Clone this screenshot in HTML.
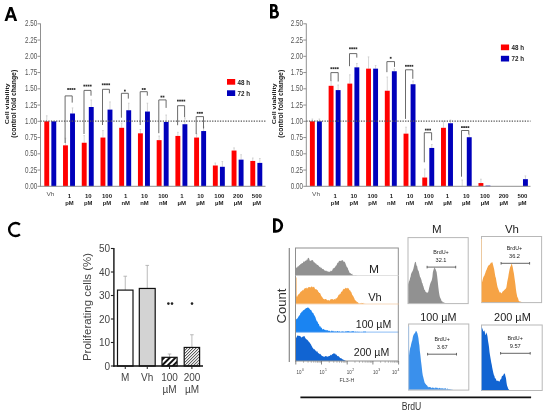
<!DOCTYPE html>
<html><head><meta charset="utf-8"><style>
html,body{margin:0;padding:0;background:#fff;width:550px;height:414px;overflow:hidden}
svg{display:block;font-family:"Liberation Sans", sans-serif;will-change:transform}
</style></head><body>
<svg width="550" height="414" viewBox="0 0 550 414">
<rect width="550" height="414" fill="#fff"/>
<line x1="46.75" y1="121.30" x2="46.75" y2="115.80" stroke="#c4c4c4" stroke-width="0.7" />
<line x1="45.95" y1="115.80" x2="47.55" y2="115.80" stroke="#c4c4c4" stroke-width="0.7" />
<line x1="65.48" y1="145.35" x2="65.48" y2="138.20" stroke="#c4c4c4" stroke-width="0.7" />
<line x1="64.68" y1="138.20" x2="66.28" y2="138.20" stroke="#c4c4c4" stroke-width="0.7" />
<line x1="72.53" y1="113.50" x2="72.53" y2="107.90" stroke="#c4c4c4" stroke-width="0.7" />
<line x1="71.73" y1="107.90" x2="73.33" y2="107.90" stroke="#c4c4c4" stroke-width="0.7" />
<line x1="84.21" y1="142.75" x2="84.21" y2="135.60" stroke="#c4c4c4" stroke-width="0.7" />
<line x1="83.41" y1="135.60" x2="85.01" y2="135.60" stroke="#c4c4c4" stroke-width="0.7" />
<line x1="91.26" y1="107.00" x2="91.26" y2="100.00" stroke="#c4c4c4" stroke-width="0.7" />
<line x1="90.46" y1="100.00" x2="92.06" y2="100.00" stroke="#c4c4c4" stroke-width="0.7" />
<line x1="102.94" y1="137.55" x2="102.94" y2="130.50" stroke="#c4c4c4" stroke-width="0.7" />
<line x1="102.14" y1="130.50" x2="103.74" y2="130.50" stroke="#c4c4c4" stroke-width="0.7" />
<line x1="109.99" y1="109.60" x2="109.99" y2="101.90" stroke="#c4c4c4" stroke-width="0.7" />
<line x1="109.19" y1="101.90" x2="110.79" y2="101.90" stroke="#c4c4c4" stroke-width="0.7" />
<line x1="121.67" y1="127.80" x2="121.67" y2="123.00" stroke="#c4c4c4" stroke-width="0.7" />
<line x1="120.87" y1="123.00" x2="122.47" y2="123.00" stroke="#c4c4c4" stroke-width="0.7" />
<line x1="128.72" y1="110.25" x2="128.72" y2="103.20" stroke="#c4c4c4" stroke-width="0.7" />
<line x1="127.92" y1="103.20" x2="129.52" y2="103.20" stroke="#c4c4c4" stroke-width="0.7" />
<line x1="140.40" y1="133.33" x2="140.40" y2="129.50" stroke="#c4c4c4" stroke-width="0.7" />
<line x1="139.60" y1="129.50" x2="141.20" y2="129.50" stroke="#c4c4c4" stroke-width="0.7" />
<line x1="147.45" y1="111.55" x2="147.45" y2="103.20" stroke="#c4c4c4" stroke-width="0.7" />
<line x1="146.65" y1="103.20" x2="148.25" y2="103.20" stroke="#c4c4c4" stroke-width="0.7" />
<line x1="159.13" y1="140.15" x2="159.13" y2="136.00" stroke="#c4c4c4" stroke-width="0.7" />
<line x1="158.33" y1="136.00" x2="159.93" y2="136.00" stroke="#c4c4c4" stroke-width="0.7" />
<line x1="166.18" y1="121.95" x2="166.18" y2="115.00" stroke="#c4c4c4" stroke-width="0.7" />
<line x1="165.38" y1="115.00" x2="166.98" y2="115.00" stroke="#c4c4c4" stroke-width="0.7" />
<line x1="177.86" y1="135.93" x2="177.86" y2="132.30" stroke="#c4c4c4" stroke-width="0.7" />
<line x1="177.06" y1="132.30" x2="178.66" y2="132.30" stroke="#c4c4c4" stroke-width="0.7" />
<line x1="184.91" y1="124.23" x2="184.91" y2="118.00" stroke="#c4c4c4" stroke-width="0.7" />
<line x1="184.11" y1="118.00" x2="185.71" y2="118.00" stroke="#c4c4c4" stroke-width="0.7" />
<line x1="196.59" y1="137.55" x2="196.59" y2="134.00" stroke="#c4c4c4" stroke-width="0.7" />
<line x1="195.79" y1="134.00" x2="197.39" y2="134.00" stroke="#c4c4c4" stroke-width="0.7" />
<line x1="203.64" y1="131.05" x2="203.64" y2="127.00" stroke="#c4c4c4" stroke-width="0.7" />
<line x1="202.84" y1="127.00" x2="204.44" y2="127.00" stroke="#c4c4c4" stroke-width="0.7" />
<line x1="215.32" y1="165.50" x2="215.32" y2="163.00" stroke="#c4c4c4" stroke-width="0.7" />
<line x1="214.52" y1="163.00" x2="216.12" y2="163.00" stroke="#c4c4c4" stroke-width="0.7" />
<line x1="222.37" y1="166.80" x2="222.37" y2="161.50" stroke="#c4c4c4" stroke-width="0.7" />
<line x1="221.57" y1="161.50" x2="223.17" y2="161.50" stroke="#c4c4c4" stroke-width="0.7" />
<line x1="234.05" y1="150.55" x2="234.05" y2="147.90" stroke="#c4c4c4" stroke-width="0.7" />
<line x1="233.25" y1="147.90" x2="234.85" y2="147.90" stroke="#c4c4c4" stroke-width="0.7" />
<line x1="241.10" y1="159.65" x2="241.10" y2="154.70" stroke="#c4c4c4" stroke-width="0.7" />
<line x1="240.30" y1="154.70" x2="241.90" y2="154.70" stroke="#c4c4c4" stroke-width="0.7" />
<line x1="252.78" y1="160.95" x2="252.78" y2="158.00" stroke="#c4c4c4" stroke-width="0.7" />
<line x1="251.98" y1="158.00" x2="253.58" y2="158.00" stroke="#c4c4c4" stroke-width="0.7" />
<line x1="259.83" y1="162.90" x2="259.83" y2="158.50" stroke="#c4c4c4" stroke-width="0.7" />
<line x1="259.03" y1="158.50" x2="260.63" y2="158.50" stroke="#c4c4c4" stroke-width="0.7" />
<rect x="44.30" y="121.30" width="4.90" height="65.00" fill="#ff0000" />
<rect x="51.35" y="121.30" width="4.90" height="65.00" fill="#0000bb" />
<rect x="63.03" y="145.35" width="4.90" height="40.95" fill="#ff0000" />
<rect x="70.08" y="113.50" width="4.90" height="72.80" fill="#0000bb" />
<rect x="81.76" y="142.75" width="4.90" height="43.55" fill="#ff0000" />
<rect x="88.81" y="107.00" width="4.90" height="79.30" fill="#0000bb" />
<rect x="100.49" y="137.55" width="4.90" height="48.75" fill="#ff0000" />
<rect x="107.54" y="109.60" width="4.90" height="76.70" fill="#0000bb" />
<rect x="119.22" y="127.80" width="4.90" height="58.50" fill="#ff0000" />
<rect x="126.27" y="110.25" width="4.90" height="76.05" fill="#0000bb" />
<rect x="137.95" y="133.33" width="4.90" height="52.97" fill="#ff0000" />
<rect x="145.00" y="111.55" width="4.90" height="74.75" fill="#0000bb" />
<rect x="156.68" y="140.15" width="4.90" height="46.15" fill="#ff0000" />
<rect x="163.73" y="121.95" width="4.90" height="64.35" fill="#0000bb" />
<rect x="175.41" y="135.93" width="4.90" height="50.38" fill="#ff0000" />
<rect x="182.46" y="124.23" width="4.90" height="62.07" fill="#0000bb" />
<rect x="194.14" y="137.55" width="4.90" height="48.75" fill="#ff0000" />
<rect x="201.19" y="131.05" width="4.90" height="55.25" fill="#0000bb" />
<rect x="212.87" y="165.50" width="4.90" height="20.80" fill="#ff0000" />
<rect x="219.92" y="166.80" width="4.90" height="19.50" fill="#0000bb" />
<rect x="231.60" y="150.55" width="4.90" height="35.75" fill="#ff0000" />
<rect x="238.65" y="159.65" width="4.90" height="26.65" fill="#0000bb" />
<rect x="250.33" y="160.95" width="4.90" height="25.35" fill="#ff0000" />
<rect x="257.38" y="162.90" width="4.90" height="23.40" fill="#0000bb" />
<line x1="40.50" y1="23.50" x2="40.50" y2="186.80" stroke="#909090" stroke-width="1" />
<line x1="40.50" y1="186.30" x2="265.50" y2="186.30" stroke="#909090" stroke-width="1" />
<line x1="37.50" y1="186.30" x2="40.50" y2="186.30" stroke="#909090" stroke-width="1" />
<text x="37.20" y="188.90" font-size="8.2" text-anchor="end" font-weight="normal" fill="#555" textLength="12.2" lengthAdjust="spacingAndGlyphs" >0.00</text>
<line x1="37.50" y1="170.05" x2="40.50" y2="170.05" stroke="#909090" stroke-width="1" />
<text x="37.20" y="172.65" font-size="8.2" text-anchor="end" font-weight="normal" fill="#555" textLength="12.2" lengthAdjust="spacingAndGlyphs" >0.25</text>
<line x1="37.50" y1="153.80" x2="40.50" y2="153.80" stroke="#909090" stroke-width="1" />
<text x="37.20" y="156.40" font-size="8.2" text-anchor="end" font-weight="normal" fill="#555" textLength="12.2" lengthAdjust="spacingAndGlyphs" >0.50</text>
<line x1="37.50" y1="137.55" x2="40.50" y2="137.55" stroke="#909090" stroke-width="1" />
<text x="37.20" y="140.15" font-size="8.2" text-anchor="end" font-weight="normal" fill="#555" textLength="12.2" lengthAdjust="spacingAndGlyphs" >0.75</text>
<line x1="37.50" y1="121.30" x2="40.50" y2="121.30" stroke="#909090" stroke-width="1" />
<text x="37.20" y="123.90" font-size="8.2" text-anchor="end" font-weight="normal" fill="#555" textLength="12.2" lengthAdjust="spacingAndGlyphs" >1.00</text>
<line x1="37.50" y1="105.05" x2="40.50" y2="105.05" stroke="#909090" stroke-width="1" />
<text x="37.20" y="107.65" font-size="8.2" text-anchor="end" font-weight="normal" fill="#555" textLength="12.2" lengthAdjust="spacingAndGlyphs" >1.25</text>
<line x1="37.50" y1="88.80" x2="40.50" y2="88.80" stroke="#909090" stroke-width="1" />
<text x="37.20" y="91.40" font-size="8.2" text-anchor="end" font-weight="normal" fill="#555" textLength="12.2" lengthAdjust="spacingAndGlyphs" >1.50</text>
<line x1="37.50" y1="72.55" x2="40.50" y2="72.55" stroke="#909090" stroke-width="1" />
<text x="37.20" y="75.15" font-size="8.2" text-anchor="end" font-weight="normal" fill="#555" textLength="12.2" lengthAdjust="spacingAndGlyphs" >1.75</text>
<line x1="37.50" y1="56.30" x2="40.50" y2="56.30" stroke="#909090" stroke-width="1" />
<text x="37.20" y="58.90" font-size="8.2" text-anchor="end" font-weight="normal" fill="#555" textLength="12.2" lengthAdjust="spacingAndGlyphs" >2.00</text>
<line x1="37.50" y1="40.05" x2="40.50" y2="40.05" stroke="#909090" stroke-width="1" />
<text x="37.20" y="42.65" font-size="8.2" text-anchor="end" font-weight="normal" fill="#555" textLength="12.2" lengthAdjust="spacingAndGlyphs" >2.25</text>
<line x1="37.50" y1="23.80" x2="40.50" y2="23.80" stroke="#909090" stroke-width="1" />
<text x="37.20" y="26.40" font-size="8.2" text-anchor="end" font-weight="normal" fill="#555" textLength="12.2" lengthAdjust="spacingAndGlyphs" >2.50</text>
<line x1="40.50" y1="121.10" x2="265.50" y2="121.10" stroke="#555" stroke-width="1.1" stroke-dasharray="1.3,1.3"/>
<polyline points="65.1,143 65.1,95.9 72.2,95.9 72.2,102.6" fill="none" stroke="#5a5a5a" stroke-width="0.9"/>
<rect x="67.20" y="88.10" width="1.75" height="1.80" fill="#333" />
<rect x="69.35" y="88.10" width="1.75" height="1.80" fill="#333" />
<rect x="71.50" y="88.10" width="1.75" height="1.80" fill="#333" />
<rect x="73.65" y="88.10" width="1.75" height="1.80" fill="#333" />
<polyline points="84.0,134 84.0,90.4 91.0,90.4 91.0,95.7" fill="none" stroke="#5a5a5a" stroke-width="0.9"/>
<rect x="83.40" y="84.70" width="1.75" height="1.80" fill="#333" />
<rect x="85.55" y="84.70" width="1.75" height="1.80" fill="#333" />
<rect x="87.70" y="84.70" width="1.75" height="1.80" fill="#333" />
<rect x="89.85" y="84.70" width="1.75" height="1.80" fill="#333" />
<polyline points="102.5,125 102.5,89.3 109.4,89.3 109.4,93.3" fill="none" stroke="#5a5a5a" stroke-width="0.9"/>
<rect x="101.85" y="83.40" width="1.75" height="1.80" fill="#333" />
<rect x="104.00" y="83.40" width="1.75" height="1.80" fill="#333" />
<rect x="106.15" y="83.40" width="1.75" height="1.80" fill="#333" />
<rect x="108.30" y="83.40" width="1.75" height="1.80" fill="#333" />
<polyline points="121.4,117.7 121.4,93.3 128.3,93.3 128.3,98.6" fill="none" stroke="#5a5a5a" stroke-width="0.9"/>
<rect x="123.98" y="89.70" width="1.75" height="1.80" fill="#333" />
<polyline points="140.2,125 140.2,91.7 147.3,91.7 147.3,95.7" fill="none" stroke="#5a5a5a" stroke-width="0.9"/>
<rect x="141.80" y="88.10" width="1.75" height="1.80" fill="#333" />
<rect x="143.95" y="88.10" width="1.75" height="1.80" fill="#333" />
<polyline points="158.8,133.2 158.8,99.9 166.1,99.9 166.1,107.9" fill="none" stroke="#5a5a5a" stroke-width="0.9"/>
<rect x="160.50" y="95.70" width="1.75" height="1.80" fill="#333" />
<rect x="162.65" y="95.70" width="1.75" height="1.80" fill="#333" />
<polyline points="177.6,125.2 177.6,105.7 184.6,105.7 184.6,117.2" fill="none" stroke="#5a5a5a" stroke-width="0.9"/>
<rect x="177.00" y="99.70" width="1.75" height="1.80" fill="#333" />
<rect x="179.15" y="99.70" width="1.75" height="1.80" fill="#333" />
<rect x="181.30" y="99.70" width="1.75" height="1.80" fill="#333" />
<rect x="183.45" y="99.70" width="1.75" height="1.80" fill="#333" />
<polyline points="196.2,134 196.2,116.6 203.5,116.6 203.5,128.5" fill="none" stroke="#5a5a5a" stroke-width="0.9"/>
<rect x="196.82" y="111.90" width="1.75" height="1.80" fill="#333" />
<rect x="198.97" y="111.90" width="1.75" height="1.80" fill="#333" />
<rect x="201.12" y="111.90" width="1.75" height="1.80" fill="#333" />
<text x="50.48" y="196.40" font-size="6" text-anchor="middle" font-weight="normal" fill="#555" textLength="8" lengthAdjust="spacingAndGlyphs" >Vh</text>
<text x="69.50" y="198.30" font-size="6" text-anchor="middle" font-weight="bold" fill="#222" >1</text>
<text x="69.50" y="204.60" font-size="6" text-anchor="middle" font-weight="bold" fill="#222" textLength="8.5" lengthAdjust="spacingAndGlyphs" >pM</text>
<text x="88.23" y="198.30" font-size="6" text-anchor="middle" font-weight="bold" fill="#222" >10</text>
<text x="88.23" y="204.60" font-size="6" text-anchor="middle" font-weight="bold" fill="#222" textLength="8.5" lengthAdjust="spacingAndGlyphs" >pM</text>
<text x="106.97" y="198.30" font-size="6" text-anchor="middle" font-weight="bold" fill="#222" >100</text>
<text x="106.97" y="204.60" font-size="6" text-anchor="middle" font-weight="bold" fill="#222" textLength="8.5" lengthAdjust="spacingAndGlyphs" >pM</text>
<text x="125.69" y="198.30" font-size="6" text-anchor="middle" font-weight="bold" fill="#222" >1</text>
<text x="125.69" y="204.60" font-size="6" text-anchor="middle" font-weight="bold" fill="#222" textLength="8.5" lengthAdjust="spacingAndGlyphs" >nM</text>
<text x="144.43" y="198.30" font-size="6" text-anchor="middle" font-weight="bold" fill="#222" >10</text>
<text x="144.43" y="204.60" font-size="6" text-anchor="middle" font-weight="bold" fill="#222" textLength="8.5" lengthAdjust="spacingAndGlyphs" >nM</text>
<text x="163.16" y="198.30" font-size="6" text-anchor="middle" font-weight="bold" fill="#222" >100</text>
<text x="163.16" y="204.60" font-size="6" text-anchor="middle" font-weight="bold" fill="#222" textLength="8.5" lengthAdjust="spacingAndGlyphs" >nM</text>
<text x="181.89" y="198.30" font-size="6" text-anchor="middle" font-weight="bold" fill="#222" >1</text>
<text x="181.89" y="204.60" font-size="6" text-anchor="middle" font-weight="bold" fill="#222" textLength="8.5" lengthAdjust="spacingAndGlyphs" >µM</text>
<text x="200.62" y="198.30" font-size="6" text-anchor="middle" font-weight="bold" fill="#222" >10</text>
<text x="200.62" y="204.60" font-size="6" text-anchor="middle" font-weight="bold" fill="#222" textLength="8.5" lengthAdjust="spacingAndGlyphs" >µM</text>
<text x="219.34" y="198.30" font-size="6" text-anchor="middle" font-weight="bold" fill="#222" >100</text>
<text x="219.34" y="204.60" font-size="6" text-anchor="middle" font-weight="bold" fill="#222" textLength="8.5" lengthAdjust="spacingAndGlyphs" >µM</text>
<text x="238.08" y="198.30" font-size="6" text-anchor="middle" font-weight="bold" fill="#222" >200</text>
<text x="238.08" y="204.60" font-size="6" text-anchor="middle" font-weight="bold" fill="#222" textLength="8.5" lengthAdjust="spacingAndGlyphs" >µM</text>
<text x="256.81" y="198.30" font-size="6" text-anchor="middle" font-weight="bold" fill="#222" >500</text>
<text x="256.81" y="204.60" font-size="6" text-anchor="middle" font-weight="bold" fill="#222" textLength="8.5" lengthAdjust="spacingAndGlyphs" >µM</text>
<text transform="translate(8.5,103.80000000000001) rotate(-90)" font-size="6.2" font-weight="bold" fill="#222" text-anchor="middle" textLength="41" lengthAdjust="spacingAndGlyphs">Cell viability</text>
<text transform="translate(16.3,103.80000000000001) rotate(-90)" font-size="6.4" font-weight="bold" fill="#222" text-anchor="middle" textLength="68" lengthAdjust="spacingAndGlyphs">(control fold change)</text>
<rect x="227.00" y="79.00" width="8.20" height="5.70" fill="#ff0000" />
<rect x="227.00" y="90.30" width="8.20" height="5.70" fill="#0000bb" />
<text x="237.60" y="84.60" font-size="6.3" text-anchor="start" font-weight="bold" fill="#222" textLength="12.5" lengthAdjust="spacingAndGlyphs" >48 h</text>
<text x="237.60" y="95.90" font-size="6.3" text-anchor="start" font-weight="bold" fill="#222" textLength="12.5" lengthAdjust="spacingAndGlyphs" >72 h</text>
<path d="M9.3,6.9 H12.3 L17.2,21 H14.3 L13.2,17.7 H8.4 L7.3,21 H4.5 Z M9.1,15.3 H12.5 L10.8,10.2 Z" fill="#000" fill-rule="evenodd"/>
<line x1="312.35" y1="121.30" x2="312.35" y2="119.00" stroke="#c4c4c4" stroke-width="0.7" />
<line x1="311.55" y1="119.00" x2="313.15" y2="119.00" stroke="#c4c4c4" stroke-width="0.7" />
<line x1="319.40" y1="121.30" x2="319.40" y2="119.00" stroke="#c4c4c4" stroke-width="0.7" />
<line x1="318.60" y1="119.00" x2="320.20" y2="119.00" stroke="#c4c4c4" stroke-width="0.7" />
<line x1="331.08" y1="85.81" x2="331.08" y2="80.80" stroke="#c4c4c4" stroke-width="0.7" />
<line x1="330.28" y1="80.80" x2="331.88" y2="80.80" stroke="#c4c4c4" stroke-width="0.7" />
<line x1="338.13" y1="90.10" x2="338.13" y2="85.00" stroke="#c4c4c4" stroke-width="0.7" />
<line x1="337.33" y1="85.00" x2="338.93" y2="85.00" stroke="#c4c4c4" stroke-width="0.7" />
<line x1="349.81" y1="83.60" x2="349.81" y2="74.80" stroke="#c4c4c4" stroke-width="0.7" />
<line x1="349.01" y1="74.80" x2="350.61" y2="74.80" stroke="#c4c4c4" stroke-width="0.7" />
<line x1="356.86" y1="67.35" x2="356.86" y2="63.50" stroke="#c4c4c4" stroke-width="0.7" />
<line x1="356.06" y1="63.50" x2="357.66" y2="63.50" stroke="#c4c4c4" stroke-width="0.7" />
<line x1="368.54" y1="68.65" x2="368.54" y2="56.90" stroke="#c4c4c4" stroke-width="0.7" />
<line x1="367.74" y1="56.90" x2="369.34" y2="56.90" stroke="#c4c4c4" stroke-width="0.7" />
<line x1="375.59" y1="68.65" x2="375.59" y2="65.50" stroke="#c4c4c4" stroke-width="0.7" />
<line x1="374.79" y1="65.50" x2="376.39" y2="65.50" stroke="#c4c4c4" stroke-width="0.7" />
<line x1="387.27" y1="90.75" x2="387.27" y2="77.00" stroke="#c4c4c4" stroke-width="0.7" />
<line x1="386.47" y1="77.00" x2="388.07" y2="77.00" stroke="#c4c4c4" stroke-width="0.7" />
<line x1="394.32" y1="71.25" x2="394.32" y2="68.90" stroke="#c4c4c4" stroke-width="0.7" />
<line x1="393.52" y1="68.90" x2="395.12" y2="68.90" stroke="#c4c4c4" stroke-width="0.7" />
<line x1="406.00" y1="133.65" x2="406.00" y2="127.20" stroke="#c4c4c4" stroke-width="0.7" />
<line x1="405.20" y1="127.20" x2="406.80" y2="127.20" stroke="#c4c4c4" stroke-width="0.7" />
<line x1="413.05" y1="84.25" x2="413.05" y2="81.00" stroke="#c4c4c4" stroke-width="0.7" />
<line x1="412.25" y1="81.00" x2="413.85" y2="81.00" stroke="#c4c4c4" stroke-width="0.7" />
<line x1="424.73" y1="177.53" x2="424.73" y2="169.00" stroke="#c4c4c4" stroke-width="0.7" />
<line x1="423.93" y1="169.00" x2="425.53" y2="169.00" stroke="#c4c4c4" stroke-width="0.7" />
<line x1="431.78" y1="147.95" x2="431.78" y2="144.50" stroke="#c4c4c4" stroke-width="0.7" />
<line x1="430.98" y1="144.50" x2="432.58" y2="144.50" stroke="#c4c4c4" stroke-width="0.7" />
<line x1="443.46" y1="127.80" x2="443.46" y2="121.00" stroke="#c4c4c4" stroke-width="0.7" />
<line x1="442.66" y1="121.00" x2="444.26" y2="121.00" stroke="#c4c4c4" stroke-width="0.7" />
<line x1="450.51" y1="123.25" x2="450.51" y2="120.00" stroke="#c4c4c4" stroke-width="0.7" />
<line x1="449.71" y1="120.00" x2="451.31" y2="120.00" stroke="#c4c4c4" stroke-width="0.7" />
<line x1="462.19" y1="186.30" x2="462.19" y2="180.00" stroke="#c4c4c4" stroke-width="0.7" />
<line x1="461.39" y1="180.00" x2="462.99" y2="180.00" stroke="#c4c4c4" stroke-width="0.7" />
<line x1="469.24" y1="137.23" x2="469.24" y2="134.40" stroke="#c4c4c4" stroke-width="0.7" />
<line x1="468.44" y1="134.40" x2="470.04" y2="134.40" stroke="#c4c4c4" stroke-width="0.7" />
<line x1="480.92" y1="183.05" x2="480.92" y2="179.20" stroke="#c4c4c4" stroke-width="0.7" />
<line x1="480.12" y1="179.20" x2="481.72" y2="179.20" stroke="#c4c4c4" stroke-width="0.7" />
<line x1="525.43" y1="179.15" x2="525.43" y2="175.90" stroke="#c4c4c4" stroke-width="0.7" />
<line x1="524.63" y1="175.90" x2="526.23" y2="175.90" stroke="#c4c4c4" stroke-width="0.7" />
<rect x="309.90" y="121.30" width="4.90" height="65.00" fill="#ff0000" />
<rect x="316.95" y="121.30" width="4.90" height="65.00" fill="#0000bb" />
<rect x="328.63" y="85.81" width="4.90" height="100.49" fill="#ff0000" />
<rect x="335.68" y="90.10" width="4.90" height="96.20" fill="#0000bb" />
<rect x="347.36" y="83.60" width="4.90" height="102.70" fill="#ff0000" />
<rect x="354.41" y="67.35" width="4.90" height="118.95" fill="#0000bb" />
<rect x="366.09" y="68.65" width="4.90" height="117.65" fill="#ff0000" />
<rect x="373.14" y="68.65" width="4.90" height="117.65" fill="#0000bb" />
<rect x="384.82" y="90.75" width="4.90" height="95.55" fill="#ff0000" />
<rect x="391.87" y="71.25" width="4.90" height="115.05" fill="#0000bb" />
<rect x="403.55" y="133.65" width="4.90" height="52.65" fill="#ff0000" />
<rect x="410.60" y="84.25" width="4.90" height="102.05" fill="#0000bb" />
<rect x="422.28" y="177.53" width="4.90" height="8.78" fill="#ff0000" />
<rect x="429.33" y="147.95" width="4.90" height="38.35" fill="#0000bb" />
<rect x="441.01" y="127.80" width="4.90" height="58.50" fill="#ff0000" />
<rect x="448.06" y="123.25" width="4.90" height="63.05" fill="#0000bb" />
<rect x="466.79" y="137.23" width="4.90" height="49.08" fill="#0000bb" />
<rect x="478.47" y="183.05" width="4.90" height="3.25" fill="#ff0000" />
<rect x="485.52" y="185.65" width="4.90" height="0.65" fill="#0000bb" />
<rect x="522.98" y="179.15" width="4.90" height="7.15" fill="#0000bb" />
<line x1="306.30" y1="23.50" x2="306.30" y2="186.80" stroke="#909090" stroke-width="1" />
<line x1="306.30" y1="186.30" x2="530.50" y2="186.30" stroke="#909090" stroke-width="1" />
<line x1="303.30" y1="186.30" x2="306.30" y2="186.30" stroke="#909090" stroke-width="1" />
<text x="303.00" y="188.90" font-size="8.2" text-anchor="end" font-weight="normal" fill="#555" textLength="12.2" lengthAdjust="spacingAndGlyphs" >0.00</text>
<line x1="303.30" y1="170.05" x2="306.30" y2="170.05" stroke="#909090" stroke-width="1" />
<text x="303.00" y="172.65" font-size="8.2" text-anchor="end" font-weight="normal" fill="#555" textLength="12.2" lengthAdjust="spacingAndGlyphs" >0.25</text>
<line x1="303.30" y1="153.80" x2="306.30" y2="153.80" stroke="#909090" stroke-width="1" />
<text x="303.00" y="156.40" font-size="8.2" text-anchor="end" font-weight="normal" fill="#555" textLength="12.2" lengthAdjust="spacingAndGlyphs" >0.50</text>
<line x1="303.30" y1="137.55" x2="306.30" y2="137.55" stroke="#909090" stroke-width="1" />
<text x="303.00" y="140.15" font-size="8.2" text-anchor="end" font-weight="normal" fill="#555" textLength="12.2" lengthAdjust="spacingAndGlyphs" >0.75</text>
<line x1="303.30" y1="121.30" x2="306.30" y2="121.30" stroke="#909090" stroke-width="1" />
<text x="303.00" y="123.90" font-size="8.2" text-anchor="end" font-weight="normal" fill="#555" textLength="12.2" lengthAdjust="spacingAndGlyphs" >1.00</text>
<line x1="303.30" y1="105.05" x2="306.30" y2="105.05" stroke="#909090" stroke-width="1" />
<text x="303.00" y="107.65" font-size="8.2" text-anchor="end" font-weight="normal" fill="#555" textLength="12.2" lengthAdjust="spacingAndGlyphs" >1.25</text>
<line x1="303.30" y1="88.80" x2="306.30" y2="88.80" stroke="#909090" stroke-width="1" />
<text x="303.00" y="91.40" font-size="8.2" text-anchor="end" font-weight="normal" fill="#555" textLength="12.2" lengthAdjust="spacingAndGlyphs" >1.50</text>
<line x1="303.30" y1="72.55" x2="306.30" y2="72.55" stroke="#909090" stroke-width="1" />
<text x="303.00" y="75.15" font-size="8.2" text-anchor="end" font-weight="normal" fill="#555" textLength="12.2" lengthAdjust="spacingAndGlyphs" >1.75</text>
<line x1="303.30" y1="56.30" x2="306.30" y2="56.30" stroke="#909090" stroke-width="1" />
<text x="303.00" y="58.90" font-size="8.2" text-anchor="end" font-weight="normal" fill="#555" textLength="12.2" lengthAdjust="spacingAndGlyphs" >2.00</text>
<line x1="303.30" y1="40.05" x2="306.30" y2="40.05" stroke="#909090" stroke-width="1" />
<text x="303.00" y="42.65" font-size="8.2" text-anchor="end" font-weight="normal" fill="#555" textLength="12.2" lengthAdjust="spacingAndGlyphs" >2.25</text>
<line x1="303.30" y1="23.80" x2="306.30" y2="23.80" stroke="#909090" stroke-width="1" />
<text x="303.00" y="26.40" font-size="8.2" text-anchor="end" font-weight="normal" fill="#555" textLength="12.2" lengthAdjust="spacingAndGlyphs" >2.50</text>
<line x1="306.30" y1="121.10" x2="530.50" y2="121.10" stroke="#555" stroke-width="1.1" stroke-dasharray="1.3,1.3"/>
<polyline points="330.9,80.8 330.9,72.6 338.2,72.6 338.2,81.5" fill="none" stroke="#5a5a5a" stroke-width="0.9"/>
<rect x="330.45" y="67.30" width="1.75" height="1.80" fill="#333" />
<rect x="332.60" y="67.30" width="1.75" height="1.80" fill="#333" />
<rect x="334.75" y="67.30" width="1.75" height="1.80" fill="#333" />
<rect x="336.90" y="67.30" width="1.75" height="1.80" fill="#333" />
<polyline points="349.5,66.2 349.5,53.6 356.8,53.6 356.8,57.6" fill="none" stroke="#5a5a5a" stroke-width="0.9"/>
<rect x="349.05" y="47.40" width="1.75" height="1.80" fill="#333" />
<rect x="351.20" y="47.40" width="1.75" height="1.80" fill="#333" />
<rect x="353.35" y="47.40" width="1.75" height="1.80" fill="#333" />
<rect x="355.50" y="47.40" width="1.75" height="1.80" fill="#333" />
<polyline points="386.9,72.2 386.9,61.6 394.5,61.6 394.5,66.9" fill="none" stroke="#5a5a5a" stroke-width="0.9"/>
<rect x="389.82" y="56.90" width="1.75" height="1.80" fill="#333" />
<polyline points="405.5,118.9 405.5,69.8 412.8,69.8 412.8,78.8" fill="none" stroke="#5a5a5a" stroke-width="0.9"/>
<rect x="405.05" y="64.90" width="1.75" height="1.80" fill="#333" />
<rect x="407.20" y="64.90" width="1.75" height="1.80" fill="#333" />
<rect x="409.35" y="64.90" width="1.75" height="1.80" fill="#333" />
<rect x="411.50" y="64.90" width="1.75" height="1.80" fill="#333" />
<polyline points="424.3,162.3 424.3,132.7 431.6,132.7 431.6,140.3" fill="none" stroke="#5a5a5a" stroke-width="0.9"/>
<rect x="424.93" y="128.70" width="1.75" height="1.80" fill="#333" />
<rect x="427.07" y="128.70" width="1.75" height="1.80" fill="#333" />
<rect x="429.23" y="128.70" width="1.75" height="1.80" fill="#333" />
<polyline points="461.5,176.7 461.5,130.5 468.8,130.5 468.8,134.4" fill="none" stroke="#5a5a5a" stroke-width="0.9"/>
<rect x="461.05" y="126.20" width="1.75" height="1.80" fill="#333" />
<rect x="463.20" y="126.20" width="1.75" height="1.80" fill="#333" />
<rect x="465.35" y="126.20" width="1.75" height="1.80" fill="#333" />
<rect x="467.50" y="126.20" width="1.75" height="1.80" fill="#333" />
<text x="316.07" y="196.40" font-size="6" text-anchor="middle" font-weight="normal" fill="#555" textLength="8" lengthAdjust="spacingAndGlyphs" >Vh</text>
<text x="335.11" y="198.30" font-size="6" text-anchor="middle" font-weight="bold" fill="#222" >1</text>
<text x="335.11" y="204.60" font-size="6" text-anchor="middle" font-weight="bold" fill="#222" textLength="8.5" lengthAdjust="spacingAndGlyphs" >pM</text>
<text x="353.83" y="198.30" font-size="6" text-anchor="middle" font-weight="bold" fill="#222" >10</text>
<text x="353.83" y="204.60" font-size="6" text-anchor="middle" font-weight="bold" fill="#222" textLength="8.5" lengthAdjust="spacingAndGlyphs" >pM</text>
<text x="372.56" y="198.30" font-size="6" text-anchor="middle" font-weight="bold" fill="#222" >100</text>
<text x="372.56" y="204.60" font-size="6" text-anchor="middle" font-weight="bold" fill="#222" textLength="8.5" lengthAdjust="spacingAndGlyphs" >pM</text>
<text x="391.30" y="198.30" font-size="6" text-anchor="middle" font-weight="bold" fill="#222" >1</text>
<text x="391.30" y="204.60" font-size="6" text-anchor="middle" font-weight="bold" fill="#222" textLength="8.5" lengthAdjust="spacingAndGlyphs" >nM</text>
<text x="410.02" y="198.30" font-size="6" text-anchor="middle" font-weight="bold" fill="#222" >10</text>
<text x="410.02" y="204.60" font-size="6" text-anchor="middle" font-weight="bold" fill="#222" textLength="8.5" lengthAdjust="spacingAndGlyphs" >nM</text>
<text x="428.75" y="198.30" font-size="6" text-anchor="middle" font-weight="bold" fill="#222" >100</text>
<text x="428.75" y="204.60" font-size="6" text-anchor="middle" font-weight="bold" fill="#222" textLength="8.5" lengthAdjust="spacingAndGlyphs" >nM</text>
<text x="447.49" y="198.30" font-size="6" text-anchor="middle" font-weight="bold" fill="#222" >1</text>
<text x="447.49" y="204.60" font-size="6" text-anchor="middle" font-weight="bold" fill="#222" textLength="8.5" lengthAdjust="spacingAndGlyphs" >µM</text>
<text x="466.22" y="198.30" font-size="6" text-anchor="middle" font-weight="bold" fill="#222" >10</text>
<text x="466.22" y="204.60" font-size="6" text-anchor="middle" font-weight="bold" fill="#222" textLength="8.5" lengthAdjust="spacingAndGlyphs" >µM</text>
<text x="484.94" y="198.30" font-size="6" text-anchor="middle" font-weight="bold" fill="#222" >100</text>
<text x="484.94" y="204.60" font-size="6" text-anchor="middle" font-weight="bold" fill="#222" textLength="8.5" lengthAdjust="spacingAndGlyphs" >µM</text>
<text x="503.68" y="198.30" font-size="6" text-anchor="middle" font-weight="bold" fill="#222" >200</text>
<text x="503.68" y="204.60" font-size="6" text-anchor="middle" font-weight="bold" fill="#222" textLength="8.5" lengthAdjust="spacingAndGlyphs" >µM</text>
<text x="522.40" y="198.30" font-size="6" text-anchor="middle" font-weight="bold" fill="#222" >500</text>
<text x="522.40" y="204.60" font-size="6" text-anchor="middle" font-weight="bold" fill="#222" textLength="8.5" lengthAdjust="spacingAndGlyphs" >µM</text>
<text transform="translate(275.5,103.80000000000001) rotate(-90)" font-size="6.2" font-weight="bold" fill="#222" text-anchor="middle" textLength="41" lengthAdjust="spacingAndGlyphs">Cell viability</text>
<text transform="translate(282.90000000000003,103.80000000000001) rotate(-90)" font-size="6.4" font-weight="bold" fill="#222" text-anchor="middle" textLength="68" lengthAdjust="spacingAndGlyphs">(control fold change)</text>
<rect x="500.90" y="44.50" width="8.20" height="5.70" fill="#ff0000" />
<rect x="500.90" y="55.80" width="8.20" height="5.70" fill="#0000bb" />
<text x="511.50" y="50.10" font-size="6.3" text-anchor="start" font-weight="bold" fill="#222" textLength="12.5" lengthAdjust="spacingAndGlyphs" >48 h</text>
<text x="511.50" y="61.40" font-size="6.3" text-anchor="start" font-weight="bold" fill="#222" textLength="12.5" lengthAdjust="spacingAndGlyphs" >72 h</text>
<path d="M271.3,17.2 V5.3 H273.6 A2.75,2.75 0 0 1 273.6,10.8 H271.3 M271.3,10.8 H274.5 A3.2,3.2 0 0 1 274.5,17.2 H271.3 Z" fill="none" stroke="#000" stroke-width="2.6" stroke-linejoin="miter"/>
<path d="M19.9,224.6 A6.5,6.5 0 1 0 19.9,234.4" fill="none" stroke="#000" stroke-width="2.4"/>
<line x1="125.25" y1="276.23" x2="125.25" y2="290.10" stroke="#aaa" stroke-width="0.8" />
<line x1="123.45" y1="276.23" x2="127.05" y2="276.23" stroke="#aaa" stroke-width="0.8" />
<line x1="147.25" y1="265.42" x2="147.25" y2="288.45" stroke="#aaa" stroke-width="0.8" />
<line x1="145.45" y1="265.42" x2="149.05" y2="265.42" stroke="#aaa" stroke-width="0.8" />
<line x1="169.55" y1="354.01" x2="169.55" y2="357.31" stroke="#aaa" stroke-width="0.8" />
<line x1="167.75" y1="354.01" x2="171.35" y2="354.01" stroke="#aaa" stroke-width="0.8" />
<line x1="191.90" y1="334.75" x2="191.90" y2="347.44" stroke="#aaa" stroke-width="0.8" />
<line x1="190.10" y1="334.75" x2="193.70" y2="334.75" stroke="#aaa" stroke-width="0.8" />
<defs><pattern id="h1" patternUnits="userSpaceOnUse" width="4" height="4" patternTransform="rotate(45)"><rect width="4" height="4" fill="#fff"/><rect width="2" height="4" fill="#111"/></pattern><pattern id="h2" patternUnits="userSpaceOnUse" width="2.1" height="2.1" patternTransform="rotate(45)"><rect width="2.1" height="2.1" fill="#fff"/><rect width="0.9" height="2.1" fill="#555"/></pattern></defs>
<rect x="117.5" y="290.10" width="15.50" height="75.91" fill="#fff" stroke="#111" stroke-width="1.2"/>
<rect x="139.3" y="288.45" width="15.90" height="77.55" fill="#d3d3d3" stroke="#111" stroke-width="1.2"/>
<rect x="162" y="357.31" width="15.10" height="8.70" fill="url(#h1)" stroke="#111" stroke-width="1.2"/>
<rect x="184.2" y="347.44" width="15.40" height="18.57" fill="url(#h2)" stroke="#111" stroke-width="1.2"/>
<line x1="113.90" y1="248.00" x2="113.90" y2="366.70" stroke="#111" stroke-width="1.4" />
<line x1="113.20" y1="366.00" x2="203.00" y2="366.00" stroke="#111" stroke-width="1.7" />
<line x1="110.90" y1="366.00" x2="113.90" y2="366.00" stroke="#222" stroke-width="1.1" />
<text x="110.00" y="369.60" font-size="10" text-anchor="end" font-weight="normal" fill="#444" >0</text>
<line x1="110.90" y1="342.50" x2="113.90" y2="342.50" stroke="#222" stroke-width="1.1" />
<text x="110.00" y="346.10" font-size="10" text-anchor="end" font-weight="normal" fill="#444" >10</text>
<line x1="110.90" y1="319.00" x2="113.90" y2="319.00" stroke="#222" stroke-width="1.1" />
<text x="110.00" y="322.60" font-size="10" text-anchor="end" font-weight="normal" fill="#444" >20</text>
<line x1="110.90" y1="295.50" x2="113.90" y2="295.50" stroke="#222" stroke-width="1.1" />
<text x="110.00" y="299.10" font-size="10" text-anchor="end" font-weight="normal" fill="#444" >30</text>
<line x1="110.90" y1="272.00" x2="113.90" y2="272.00" stroke="#222" stroke-width="1.1" />
<text x="110.00" y="275.60" font-size="10" text-anchor="end" font-weight="normal" fill="#444" >40</text>
<line x1="110.90" y1="248.50" x2="113.90" y2="248.50" stroke="#222" stroke-width="1.1" />
<text x="110.00" y="252.10" font-size="10" text-anchor="end" font-weight="normal" fill="#444" >50</text>
<line x1="125.25" y1="366.00" x2="125.25" y2="369.00" stroke="#222" stroke-width="1" />
<line x1="147.25" y1="366.00" x2="147.25" y2="369.00" stroke="#222" stroke-width="1" />
<line x1="169.55" y1="366.00" x2="169.55" y2="369.00" stroke="#222" stroke-width="1" />
<line x1="191.90" y1="366.00" x2="191.90" y2="369.00" stroke="#222" stroke-width="1" />
<text x="125.20" y="380.70" font-size="10" text-anchor="middle" font-weight="normal" fill="#444" >M</text>
<text x="147.20" y="380.70" font-size="10" text-anchor="middle" font-weight="normal" fill="#444" >Vh</text>
<text x="169.60" y="380.70" font-size="10" text-anchor="middle" font-weight="normal" fill="#444" >100</text>
<text x="192.00" y="380.70" font-size="10" text-anchor="middle" font-weight="normal" fill="#444" >200</text>
<text x="169.60" y="393.40" font-size="10" text-anchor="middle" font-weight="normal" fill="#444" >µM</text>
<text x="192.00" y="393.40" font-size="10" text-anchor="middle" font-weight="normal" fill="#444" >µM</text>
<circle cx="168.4" cy="303.6" r="1.3" fill="#222"/><circle cx="172" cy="303.6" r="1.3" fill="#222"/><circle cx="192" cy="303.6" r="1.3" fill="#222"/>
<text transform="translate(91.2,307) rotate(-90)" font-size="11" fill="#444" text-anchor="middle" textLength="108" lengthAdjust="spacingAndGlyphs">Proliferating cells (%)</text>
<path d="M274.35,219.65 H275.9 A5.9,5.9 0 0 1 275.9,231.45 H274.35 Z" fill="none" stroke="#000" stroke-width="2.7"/>
<line x1="289.30" y1="248.00" x2="289.30" y2="362.00" stroke="#888" stroke-width="1.2" />
<text transform="translate(286.4,306) rotate(-90)" font-size="12.5" fill="#333" text-anchor="middle" textLength="35" lengthAdjust="spacingAndGlyphs">Count</text>
<polygon points="295.6,275.4 295.6,268.5 296.4,267.8 296.8,267.2 297.2,267.6 297.8,266.3 298.3,266.5 298.9,265.8 299.4,265.0 299.9,265.2 300.4,264.1 301.0,264.3 301.5,263.4 302.0,263.0 302.4,263.1 302.9,263.2 303.3,261.7 303.7,261.4 304.2,261.6 304.7,261.8 305.1,261.0 305.7,260.6 306.1,261.1 306.6,259.6 307.2,259.9 307.8,258.3 308.4,257.7 308.8,258.1 309.3,259.1 309.7,260.7 310.2,260.4 310.6,260.9 311.1,260.7 311.6,260.1 312.0,260.3 312.4,259.9 312.8,260.3 313.3,261.0 313.8,262.3 314.2,262.3 314.7,262.5 315.2,263.3 315.8,263.5 316.3,263.7 316.8,264.8 317.3,265.1 317.8,264.8 318.3,265.6 318.8,265.9 319.3,266.7 319.8,266.9 320.3,266.7 320.8,268.2 321.3,267.4 321.8,268.3 322.3,269.2 322.8,268.7 323.3,269.5 323.8,269.1 324.2,270.2 324.7,270.6 325.2,270.5 325.7,271.1 326.2,270.5 326.7,271.3 327.2,271.3 327.7,271.4 328.2,271.3 328.7,271.9 329.2,272.1 329.8,271.4 330.3,271.6 330.8,270.6 331.2,271.3 331.7,270.7 332.2,270.5 332.6,269.6 333.0,268.3 333.4,268.2 333.9,268.5 334.4,267.4 334.8,267.7 335.2,266.8 335.7,266.0 336.1,265.2 336.6,265.4 337.0,263.8 337.5,263.1 338.0,262.6 338.5,262.5 339.0,260.8 339.5,261.0 340.0,260.8 340.5,261.0 341.0,260.7 341.5,260.7 342.0,259.9 342.5,260.2 343.0,260.4 343.5,261.5 343.9,262.0 344.4,261.5 344.9,262.3 345.4,263.3 345.8,264.4 346.3,265.8 346.8,266.9 347.3,267.5 347.8,268.1 348.2,269.7 348.7,270.6 349.2,271.7 349.7,272.9 350.1,273.1 350.6,273.3 351.0,273.8 351.6,274.2 352.1,273.6 352.6,275.0 353.2,275.1 353.8,275.4 354.4,275.4 354.9,275.0 355.2,275.2 358.0,275.4" fill="#919191" />
<polygon points="295.6,303.8 295.6,277.5 296.5,277.4 296.6,295.4 297.0,297.3 297.4,296.0 298.0,294.9 298.6,294.2 299.1,293.7 299.6,293.4 300.1,292.5 300.7,291.8 301.2,291.5 301.7,290.9 302.2,290.7 302.8,289.7 303.3,290.4 303.8,289.6 304.3,288.6 304.8,288.4 305.3,288.3 305.8,288.1 306.4,287.6 306.8,288.5 307.3,288.5 307.8,287.7 308.2,287.6 308.7,287.0 309.2,286.9 309.7,287.2 310.2,287.0 310.7,287.7 311.2,286.6 311.6,286.3 312.1,287.6 312.6,287.0 313.0,286.5 313.6,287.3 314.1,286.8 314.6,287.9 315.1,288.9 315.6,289.2 316.1,289.4 316.6,289.3 317.2,290.0 317.7,290.3 318.2,291.8 318.7,292.0 319.2,293.0 319.8,293.0 320.3,293.5 320.8,295.0 321.3,296.1 321.9,296.8 322.5,297.6 323.0,298.4 323.5,298.9 324.0,298.7 324.4,299.4 324.8,299.3 325.4,298.9 325.8,299.0 326.2,299.4 326.7,299.5 327.2,300.1 327.7,300.5 328.3,299.8 328.8,300.5 329.3,300.6 329.8,300.5 330.3,299.6 330.9,299.3 331.4,299.2 331.9,299.1 332.4,299.0 332.9,299.5 333.3,299.8 333.9,299.6 334.4,299.1 334.9,299.3 335.4,299.4 335.9,298.0 336.3,298.4 336.8,298.3 337.3,297.5 337.8,296.8 338.2,295.8 338.7,294.7 339.2,295.0 339.7,293.8 340.1,293.9 340.6,293.5 341.0,292.2 341.5,291.6 341.9,291.8 342.4,291.0 342.9,289.7 343.4,289.2 343.8,288.7 344.3,289.3 344.8,288.8 345.3,287.5 345.7,288.3 346.3,288.4 346.8,288.0 347.3,287.8 347.8,288.4 348.3,288.2 348.8,288.4 349.4,290.2 349.9,290.3 350.4,290.7 350.9,292.0 351.4,292.3 351.9,294.1 352.4,295.3 352.9,295.6 353.4,296.6 353.9,297.6 354.4,298.5 354.9,299.9 355.5,300.2 355.9,300.9 356.4,300.9 356.8,302.3 357.3,301.9 357.7,302.3 358.3,302.8 358.8,303.5 359.2,302.9 359.7,303.7 360.2,303.2 360.8,303.3 361.3,303.4 361.8,302.7 362.3,303.3 362.8,303.0 363.1,302.8 363.4,303.5 366.0,303.8" fill="#f6a345" />
<polygon points="295.6,332.3 295.6,320.0 295.9,320.1 296.4,318.9 297.0,318.7 297.6,318.3 298.0,317.5 298.5,316.5 299.0,316.0 299.5,315.3 300.0,314.8 300.5,313.1 301.0,313.1 301.5,312.0 302.0,311.4 302.5,311.5 302.9,310.6 303.4,310.2 304.0,310.0 304.5,309.8 305.0,308.8 305.5,308.7 306.0,308.2 306.5,308.0 307.0,308.0 307.5,307.6 308.0,307.6 308.6,307.7 309.1,308.6 309.6,308.6 310.0,309.4 310.5,310.0 311.0,309.7 311.5,310.8 312.0,312.1 312.5,312.8 313.0,312.7 313.5,313.5 314.0,314.9 314.5,315.4 315.0,316.6 315.5,317.4 316.0,319.3 316.5,320.4 317.0,321.6 317.5,321.4 318.0,323.1 318.4,323.9 318.9,324.0 319.4,325.8 320.0,326.7 320.4,326.1 320.9,327.7 321.3,327.4 321.8,328.0 322.3,329.2 322.8,329.4 323.4,328.8 324.0,329.5 324.4,329.8 324.8,329.7 325.1,329.7 325.5,330.0 325.9,330.6 326.3,329.8 326.7,330.6 327.2,330.5 327.6,330.0 328.2,330.5 328.7,331.0 329.3,330.9 330.0,330.4 330.3,331.7 330.7,331.5 331.0,331.8 331.4,330.6 331.8,330.8 332.1,330.6 332.5,331.6 332.9,330.9 333.2,330.8 333.6,331.2 334.0,331.9 334.4,331.8 334.9,331.0 335.3,330.9 335.8,332.0 336.2,331.5 336.7,331.7 337.2,330.9 337.7,330.9 338.3,331.8 338.8,331.4 339.4,330.9 340.0,332.2 340.7,331.8 341.3,332.0 342.0,331.0 342.3,332.1 342.7,331.0 343.1,332.1 343.5,331.6 343.9,331.4 344.3,331.7 344.8,332.3 345.2,331.4 345.7,331.2 346.1,331.7 346.6,331.3 347.1,331.2 347.6,331.2 348.1,331.1 348.6,331.3 349.1,331.5 349.6,331.5 350.2,332.1 350.7,331.5 351.2,331.8 351.8,331.3 352.3,331.6 352.9,331.1 353.4,331.5 353.9,331.1 354.5,332.2 355.0,331.9 355.6,331.4 356.1,331.8 356.6,332.3 357.1,331.3 357.7,332.3 358.2,331.8 358.7,331.9 359.2,332.3 359.7,331.8 360.1,331.9 360.6,332.2 361.1,332.3 361.5,331.7 362.0,332.3 362.4,332.2 362.8,332.1 363.2,331.8 363.6,331.7 363.9,331.3 364.3,331.5 364.6,331.4 364.9,332.3 365.2,331.6 365.5,331.5 365.8,331.4 366.0,332.0 366.0,332.3" fill="#1a84f2" />
<line x1="295.60" y1="332.10" x2="399.00" y2="332.10" stroke="#5aa0f0" stroke-width="0.7" />
<polygon points="295.6,361.0 295.6,339.0 295.9,338.6 296.4,337.4 297.0,336.2 297.4,335.6 297.9,335.5 298.5,335.7 299.0,336.1 299.5,335.8 300.0,336.3 300.6,336.2 301.1,337.4 301.5,337.6 302.0,337.1 302.5,336.5 303.0,337.2 303.5,336.1 304.0,336.2 304.5,336.1 305.0,337.4 305.5,338.3 306.0,339.0 306.5,339.1 306.9,339.9 307.4,339.7 308.0,340.7 308.4,341.0 308.9,342.0 309.4,342.2 310.0,342.9 310.5,344.0 311.0,344.6 311.5,345.8 312.0,346.4 312.4,347.4 312.9,347.9 313.4,348.7 314.0,349.5 314.4,349.3 314.9,349.6 315.4,351.0 315.9,350.2 316.4,351.5 316.9,351.8 317.4,351.3 318.0,352.9 318.4,353.3 318.9,353.3 319.3,353.8 319.8,354.3 320.3,353.7 320.7,354.6 321.2,354.9 321.7,355.7 322.1,356.0 322.6,356.2 323.0,356.1 323.5,356.8 324.1,356.7 324.6,356.8 325.1,356.2 325.5,356.0 326.0,356.2 326.5,356.5 327.0,356.0 327.5,357.0 328.0,356.4 328.5,356.3 329.1,356.1 329.6,355.9 330.1,355.4 330.5,354.5 331.0,355.4 331.5,355.1 332.0,354.4 332.5,354.1 333.0,354.0 333.5,353.0 334.0,353.9 334.5,353.4 334.9,353.3 335.4,353.9 335.9,354.8 336.5,354.5 337.0,355.6 337.5,356.3 338.0,356.0 338.5,356.2 339.1,356.7 339.7,357.5 340.2,358.0 340.8,358.2 341.3,358.6 341.7,358.2 342.0,359.0 346.0,361.0" fill="#1164d2" />
<rect x="295.5" y="248" width="102.8" height="113" fill="none" stroke="#8f8f8f" stroke-width="1"/>
<line x1="295.50" y1="275.50" x2="399.00" y2="275.50" stroke="#ccc" stroke-width="0.6" />
<line x1="295.50" y1="304.00" x2="399.00" y2="304.00" stroke="#f0c090" stroke-width="0.6" />
<text x="374.10" y="273.40" font-size="10.5" text-anchor="middle" font-weight="normal" fill="#222" textLength="10" lengthAdjust="spacingAndGlyphs" >M</text>
<text x="375.00" y="300.80" font-size="10.5" text-anchor="middle" font-weight="normal" fill="#222" textLength="13.6" lengthAdjust="spacingAndGlyphs" >Vh</text>
<text x="373.50" y="328.00" font-size="10.5" text-anchor="middle" font-weight="normal" fill="#222" textLength="35.5" lengthAdjust="spacingAndGlyphs" >100 µM</text>
<text x="371.50" y="355.80" font-size="10.5" text-anchor="middle" font-weight="normal" fill="#222" textLength="35.5" lengthAdjust="spacingAndGlyphs" >200 µM</text>
<line x1="295.80" y1="361.00" x2="295.80" y2="364.50" stroke="#666" stroke-width="0.8" />
<line x1="303.54" y1="361.00" x2="303.54" y2="362.80" stroke="#888" stroke-width="0.6" />
<line x1="308.06" y1="361.00" x2="308.06" y2="362.80" stroke="#888" stroke-width="0.6" />
<line x1="311.27" y1="361.00" x2="311.27" y2="362.80" stroke="#888" stroke-width="0.6" />
<line x1="313.76" y1="361.00" x2="313.76" y2="362.80" stroke="#888" stroke-width="0.6" />
<line x1="315.80" y1="361.00" x2="315.80" y2="362.80" stroke="#888" stroke-width="0.6" />
<line x1="317.52" y1="361.00" x2="317.52" y2="362.80" stroke="#888" stroke-width="0.6" />
<line x1="319.01" y1="361.00" x2="319.01" y2="362.80" stroke="#888" stroke-width="0.6" />
<line x1="320.32" y1="361.00" x2="320.32" y2="362.80" stroke="#888" stroke-width="0.6" />
<text x="299.10" y="374.30" font-size="4.8" text-anchor="middle" font-weight="normal" fill="#444" textLength="5" lengthAdjust="spacingAndGlyphs" >10</text>
<text x="302.90" y="371.40" font-size="3.4" text-anchor="middle" font-weight="normal" fill="#444" >0</text>
<line x1="321.50" y1="361.00" x2="321.50" y2="364.50" stroke="#666" stroke-width="0.8" />
<line x1="329.24" y1="361.00" x2="329.24" y2="362.80" stroke="#888" stroke-width="0.6" />
<line x1="333.76" y1="361.00" x2="333.76" y2="362.80" stroke="#888" stroke-width="0.6" />
<line x1="336.97" y1="361.00" x2="336.97" y2="362.80" stroke="#888" stroke-width="0.6" />
<line x1="339.46" y1="361.00" x2="339.46" y2="362.80" stroke="#888" stroke-width="0.6" />
<line x1="341.50" y1="361.00" x2="341.50" y2="362.80" stroke="#888" stroke-width="0.6" />
<line x1="343.22" y1="361.00" x2="343.22" y2="362.80" stroke="#888" stroke-width="0.6" />
<line x1="344.71" y1="361.00" x2="344.71" y2="362.80" stroke="#888" stroke-width="0.6" />
<line x1="346.02" y1="361.00" x2="346.02" y2="362.80" stroke="#888" stroke-width="0.6" />
<text x="322.10" y="374.30" font-size="4.8" text-anchor="middle" font-weight="normal" fill="#444" textLength="5" lengthAdjust="spacingAndGlyphs" >10</text>
<text x="325.90" y="371.40" font-size="3.4" text-anchor="middle" font-weight="normal" fill="#444" >1</text>
<line x1="347.20" y1="361.00" x2="347.20" y2="364.50" stroke="#666" stroke-width="0.8" />
<line x1="354.94" y1="361.00" x2="354.94" y2="362.80" stroke="#888" stroke-width="0.6" />
<line x1="359.46" y1="361.00" x2="359.46" y2="362.80" stroke="#888" stroke-width="0.6" />
<line x1="362.67" y1="361.00" x2="362.67" y2="362.80" stroke="#888" stroke-width="0.6" />
<line x1="365.16" y1="361.00" x2="365.16" y2="362.80" stroke="#888" stroke-width="0.6" />
<line x1="367.20" y1="361.00" x2="367.20" y2="362.80" stroke="#888" stroke-width="0.6" />
<line x1="368.92" y1="361.00" x2="368.92" y2="362.80" stroke="#888" stroke-width="0.6" />
<line x1="370.41" y1="361.00" x2="370.41" y2="362.80" stroke="#888" stroke-width="0.6" />
<line x1="371.72" y1="361.00" x2="371.72" y2="362.80" stroke="#888" stroke-width="0.6" />
<text x="349.30" y="374.30" font-size="4.8" text-anchor="middle" font-weight="normal" fill="#444" textLength="5" lengthAdjust="spacingAndGlyphs" >10</text>
<text x="353.10" y="371.40" font-size="3.4" text-anchor="middle" font-weight="normal" fill="#444" >2</text>
<line x1="372.90" y1="361.00" x2="372.90" y2="364.50" stroke="#666" stroke-width="0.8" />
<line x1="380.64" y1="361.00" x2="380.64" y2="362.80" stroke="#888" stroke-width="0.6" />
<line x1="385.16" y1="361.00" x2="385.16" y2="362.80" stroke="#888" stroke-width="0.6" />
<line x1="388.37" y1="361.00" x2="388.37" y2="362.80" stroke="#888" stroke-width="0.6" />
<line x1="390.86" y1="361.00" x2="390.86" y2="362.80" stroke="#888" stroke-width="0.6" />
<line x1="392.90" y1="361.00" x2="392.90" y2="362.80" stroke="#888" stroke-width="0.6" />
<line x1="394.62" y1="361.00" x2="394.62" y2="362.80" stroke="#888" stroke-width="0.6" />
<line x1="396.11" y1="361.00" x2="396.11" y2="362.80" stroke="#888" stroke-width="0.6" />
<line x1="397.42" y1="361.00" x2="397.42" y2="362.80" stroke="#888" stroke-width="0.6" />
<text x="375.50" y="374.30" font-size="4.8" text-anchor="middle" font-weight="normal" fill="#444" textLength="5" lengthAdjust="spacingAndGlyphs" >10</text>
<text x="379.30" y="371.40" font-size="3.4" text-anchor="middle" font-weight="normal" fill="#444" >3</text>
<line x1="398.60" y1="361.00" x2="398.60" y2="364.50" stroke="#666" stroke-width="0.8" />
<text x="394.60" y="374.30" font-size="4.8" text-anchor="middle" font-weight="normal" fill="#444" textLength="5" lengthAdjust="spacingAndGlyphs" >10</text>
<text x="398.40" y="371.40" font-size="3.4" text-anchor="middle" font-weight="normal" fill="#444" >4</text>
<text x="347.00" y="382.40" font-size="5" text-anchor="middle" font-weight="normal" fill="#444" textLength="14.8" lengthAdjust="spacingAndGlyphs" >FL3-H</text>
<polygon points="408.1,303.3 408.1,284.6 408.5,282.9 409.1,281.3 409.7,280.0 410.1,277.9 410.6,276.7 411.0,274.3 411.5,272.9 412.0,271.9 412.5,271.3 412.9,270.2 413.4,268.8 413.9,266.5 414.3,264.7 414.8,262.8 415.2,261.8 415.9,262.2 416.5,265.5 417.1,266.1 417.7,269.3 418.1,270.5 418.6,270.7 419.1,273.0 419.6,275.1 420.0,276.8 420.5,277.5 421.0,278.8 421.5,280.2 422.0,282.7 422.5,283.3 423.0,285.4 423.5,286.4 424.0,288.4 424.5,290.1 425.0,290.0 425.4,291.7 425.9,291.7 426.3,292.5 426.8,292.6 427.3,292.2 427.7,293.1 428.2,292.0 428.7,289.9 429.1,287.9 429.5,286.4 430.0,284.5 430.5,283.0 431.0,281.8 431.5,281.0 431.9,279.4 432.4,276.9 432.9,272.0 433.4,270.2 433.9,268.8 434.5,267.3 435.0,268.6 435.5,269.1 436.1,270.8 436.6,272.0 437.2,276.5 437.8,282.0 438.3,287.0 438.8,290.9 439.3,294.3 439.7,296.3 440.1,297.6 440.6,298.4 441.1,299.4 441.6,301.2 442.2,301.0 442.7,302.4 443.2,301.9 443.6,302.5 446.0,303.3" fill="#919191" />
<rect x="408" y="237.6" width="60.19999999999999" height="66.00000000000003" fill="none" stroke="#b8b8b8" stroke-width="1"/>
<text x="436.70" y="233.30" font-size="10.8" text-anchor="middle" font-weight="normal" fill="#222" textLength="9.6" lengthAdjust="spacingAndGlyphs" >M</text>
<text x="441.00" y="253.50" font-size="4.8" text-anchor="middle" font-weight="normal" fill="#222" textLength="15.5" lengthAdjust="spacingAndGlyphs" >BrdU+</text>
<text x="441.00" y="261.90" font-size="5" text-anchor="middle" font-weight="normal" fill="#222" textLength="11" lengthAdjust="spacingAndGlyphs" >32.1</text>
<line x1="427.10" y1="267.10" x2="455.70" y2="267.10" stroke="#555" stroke-width="0.9" />
<line x1="427.10" y1="265.80" x2="427.10" y2="268.40" stroke="#555" stroke-width="0.9" />
<line x1="455.70" y1="265.80" x2="455.70" y2="268.40" stroke="#555" stroke-width="0.9" />
<polygon points="481.6,302.4 481.6,284.6 482.0,282.6 482.5,280.6 483.1,278.0 483.7,276.5 484.3,275.7 484.9,274.0 485.4,272.7 485.9,271.1 486.3,270.3 486.8,269.2 487.2,267.8 487.7,267.2 488.1,265.6 488.6,265.8 489.1,264.9 489.6,264.7 490.2,264.0 490.7,263.1 491.1,262.4 491.8,262.8 492.3,261.9 492.9,264.2 493.6,267.1 494.2,269.6 494.8,273.2 495.4,276.7 495.9,278.1 496.4,281.3 496.8,283.3 497.3,285.9 497.7,287.5 498.2,288.7 498.6,289.9 499.1,291.0 499.6,292.5 500.1,292.3 500.6,292.2 501.1,293.2 501.6,293.3 502.1,292.4 502.6,291.6 503.1,291.3 503.6,290.7 504.0,290.6 504.5,289.8 505.0,289.6 505.4,289.0 505.9,288.4 506.4,287.2 506.8,284.8 507.2,282.0 507.7,279.6 508.2,277.2 508.6,274.4 509.1,271.8 509.6,269.2 510.2,267.0 510.8,266.0 511.4,263.7 512.0,264.4 512.7,266.9 513.3,270.4 513.9,273.6 514.5,278.1 515.0,281.5 515.5,285.3 515.9,288.9 516.4,292.6 516.9,294.9 517.3,296.9 517.7,297.4 518.2,298.7 518.7,300.7 519.3,301.5 519.8,301.3 520.1,301.6 523.0,302.4" fill="#f6a345" />
<rect x="481.5" y="236.5" width="60.10000000000002" height="66.10000000000002" fill="none" stroke="#b8b8b8" stroke-width="1"/>
<line x1="481.50" y1="239.00" x2="481.50" y2="302.60" stroke="#ecc9a0" stroke-width="1" />
<text x="511.90" y="233.30" font-size="10.8" text-anchor="middle" font-weight="normal" fill="#222" textLength="14" lengthAdjust="spacingAndGlyphs" >Vh</text>
<text x="514.50" y="249.70" font-size="4.8" text-anchor="middle" font-weight="normal" fill="#222" textLength="15.5" lengthAdjust="spacingAndGlyphs" >BrdU+</text>
<text x="514.50" y="258.10" font-size="5" text-anchor="middle" font-weight="normal" fill="#222" textLength="11" lengthAdjust="spacingAndGlyphs" >36.2</text>
<line x1="501.10" y1="263.30" x2="529.60" y2="263.30" stroke="#555" stroke-width="0.9" />
<line x1="501.10" y1="262.00" x2="501.10" y2="264.60" stroke="#555" stroke-width="0.9" />
<line x1="529.60" y1="262.00" x2="529.60" y2="264.60" stroke="#555" stroke-width="0.9" />
<polygon points="408.5,389.8 408.5,359.4 408.9,356.6 409.5,351.5 410.2,347.9 410.7,346.5 411.2,344.1 411.7,342.0 412.3,340.2 412.8,337.3 413.3,335.6 413.9,334.2 414.5,333.5 415.0,332.7 415.4,332.2 415.9,330.8 416.3,330.9 416.8,332.0 417.4,333.2 418.0,336.0 418.4,338.1 418.9,342.6 419.4,345.6 419.8,350.4 420.4,355.2 420.9,360.2 421.5,365.0 421.9,368.6 422.3,372.3 422.8,375.4 423.3,377.2 423.7,378.9 424.2,381.1 424.6,382.5 425.2,383.4 425.9,384.2 426.3,385.2 426.6,384.7 427.0,385.5 427.5,386.0 427.9,387.0 428.4,386.8 428.8,387.4 429.4,387.0 429.9,386.9 430.5,387.1 431.1,388.2 431.5,388.0 431.9,387.5 432.3,387.1 432.7,387.9 433.1,388.1 433.6,387.8 434.0,387.6 434.5,388.2 435.0,388.6 435.5,387.6 436.0,387.3 436.4,387.8 436.9,387.9 437.4,388.3 437.9,387.6 438.4,388.4 438.9,388.4 439.3,388.1 439.8,387.7 440.3,388.8 440.8,387.9 441.3,388.7 441.8,387.9 442.3,387.9 442.8,388.8 443.4,388.2 443.9,389.1 444.4,388.5 444.9,388.2 445.5,388.3 445.9,388.6 446.4,389.0 446.8,389.4 447.2,388.4 447.6,388.8 448.0,388.5 448.2,389.6 448.5,389.0 453.7,389.8" fill="#3a90ec" />
<rect x="408.6" y="324.0" width="60.19999999999999" height="66.10000000000002" fill="none" stroke="#b8b8b8" stroke-width="1"/>
<line x1="408.60" y1="326.50" x2="408.60" y2="390.10" stroke="#a8c4e4" stroke-width="1" />
<text x="438.40" y="320.80" font-size="10.8" text-anchor="middle" font-weight="normal" fill="#222" textLength="36.2" lengthAdjust="spacingAndGlyphs" >100 µM</text>
<text x="442.20" y="340.60" font-size="4.8" text-anchor="middle" font-weight="normal" fill="#222" textLength="15.5" lengthAdjust="spacingAndGlyphs" >BrdU+</text>
<text x="442.20" y="349.00" font-size="5" text-anchor="middle" font-weight="normal" fill="#222" textLength="11" lengthAdjust="spacingAndGlyphs" >3.67</text>
<line x1="427.60" y1="354.20" x2="456.50" y2="354.20" stroke="#555" stroke-width="0.9" />
<line x1="427.60" y1="352.90" x2="427.60" y2="355.50" stroke="#555" stroke-width="0.9" />
<line x1="456.50" y1="352.90" x2="456.50" y2="355.50" stroke="#555" stroke-width="0.9" />
<polygon points="481.5,390.3 481.5,326.5 481.8,327.1 482.3,328.5 482.9,330.0 483.3,331.4 483.8,331.2 484.3,330.3 484.9,332.5 485.6,335.2 486.1,334.1 486.6,332.3 487.5,336.6 488.0,340.7 488.6,344.3 489.0,347.0 489.5,352.0 490.0,355.3 490.7,359.3 491.3,362.8 491.8,365.1 492.2,367.4 492.7,370.1 493.3,372.7 494.0,375.6 494.4,375.8 494.9,378.2 495.4,378.2 495.9,379.1 496.4,380.4 497.0,380.9 497.5,380.7 498.0,380.5 498.5,381.3 499.0,381.2 499.5,381.8 500.1,380.1 500.7,379.3 501.2,379.1 501.8,376.4 502.5,375.7 502.9,375.7 503.4,375.1 503.9,373.7 504.3,373.5 504.9,373.8 505.5,376.6 506.0,378.3 506.5,382.4 507.0,385.6 507.7,387.3 508.3,389.0 509.5,390.3" fill="#1164d2" />
<rect x="481.5" y="325" width="60.700000000000045" height="65.5" fill="none" stroke="#b8b8b8" stroke-width="1"/>
<line x1="481.50" y1="327.50" x2="481.50" y2="390.50" stroke="#90b0d8" stroke-width="1" />
<text x="512.40" y="321.10" font-size="10.8" text-anchor="middle" font-weight="normal" fill="#222" textLength="36.7" lengthAdjust="spacingAndGlyphs" >200 µM</text>
<text x="515.20" y="339.70" font-size="4.8" text-anchor="middle" font-weight="normal" fill="#222" textLength="15.5" lengthAdjust="spacingAndGlyphs" >BrdU+</text>
<text x="515.20" y="348.10" font-size="5" text-anchor="middle" font-weight="normal" fill="#222" textLength="11" lengthAdjust="spacingAndGlyphs" >9.57</text>
<line x1="500.60" y1="353.30" x2="530.20" y2="353.30" stroke="#555" stroke-width="0.9" />
<line x1="500.60" y1="352.00" x2="500.60" y2="354.60" stroke="#555" stroke-width="0.9" />
<line x1="530.20" y1="352.00" x2="530.20" y2="354.60" stroke="#555" stroke-width="0.9" />
<line x1="300.40" y1="397.40" x2="531.10" y2="397.40" stroke="#111" stroke-width="1.6" />
<text x="411.50" y="410.00" font-size="10" text-anchor="middle" font-weight="normal" fill="#333" textLength="19.7" lengthAdjust="spacingAndGlyphs" >BrdU</text>
</svg></body></html>
